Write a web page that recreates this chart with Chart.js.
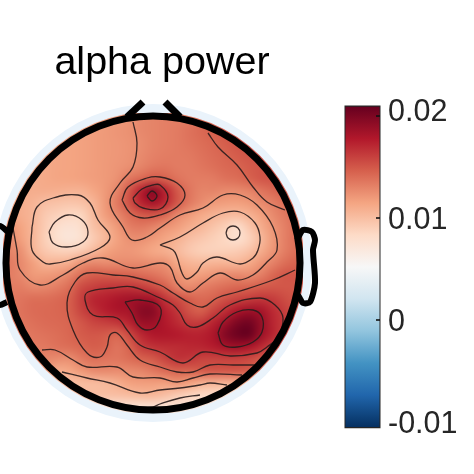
<!DOCTYPE html>
<html><head><meta charset="utf-8">
<style>html,body{margin:0;padding:0;background:#fff}#w{width:474px;height:474px}</style>
<script src="https://cdn.jsdelivr.net/npm/chart.js@4"></script>
</head><body><div id="w"><canvas id="c" width="474" height="474"></canvas></div>
<script>
const chartTitle = 'alpha power';
const tickLabels = ['0.02','0.01','0','-0.01'];
const tickLabelValues = [0.0203,0.0097,-0.0003,-0.0103];
const tickValues = [0.02,0.01,0];
const colorRange = [-0.0105,0.0209];
const rdbuStops = ['#053061','#2166ac','#4393c3','#92c5de','#d1e5f0','#f7f7f7','#fddbc7','#f4a582','#d6604d','#b2182b','#67001f'];
const headCenter = [153,263];
const gridX = [9,21,33,45,57,69,81,93,105,117,129,141,153,165,177,189,201,213,225,237,249,261,273,285,297];
const gridY = [119,131,143,155,167,179,191,203,215,227,239,251,263,275,287,299,311,323,335,347,359,371,383,395,407];
// power in units of 1e-3
const powerGrid = [
[11,11,11,11,11.5,11.5,11.5,11.5,12,12,12.3,12.8,13,13.2,13.3,13.5,14,14.5,15,15,15,15,15,15,15],
[11,11,11,11.2,11.5,11.5,11.6,11.8,12,12.2,12.4,12.8,13,13.2,13.4,13.8,14.2,14.6,15,15.3,15.5,15.5,15.5,15.5,15.5],
[11,11,11,11.2,11.4,11.5,11.6,11.8,12,12.1,12.3,12.6,13,13.2,13.4,13.7,14,14.3,14.7,15.1,15.4,15.5,15.5,15.5,15.5],
[11,11,11,11.2,11.4,11.5,11.6,11.8,12,12.1,12.3,12.7,13.1,13.3,13.4,13.5,13.8,14.1,14.4,14.8,15.1,15.3,15.5,15.5,15.5],
[10.8,11,11,11.2,11.4,11.5,11.6,11.8,12,12.2,12.5,13,13.5,13.6,13.4,13.4,13.6,13.9,14.2,14.4,14.8,15.1,15.3,15.3,15.3],
[10.8,11,11,11.2,11.4,11.5,11.6,11.8,12,12.4,13.6,14.3,15,14.6,13.8,13.4,13.3,13.4,13.8,14,14.5,15,15.2,15.3,15.3],
[11,11,11,11,10.9,10.7,10.7,11.3,12,13,15,17.5,19.5,17.3,15,13.7,13,13,12.7,12.7,13,13.6,14.2,14.8,15],
[11.5,11,10.6,10,9.8,9.6,9.8,10.5,12,13.5,15.2,17.2,18.2,17,15,13.5,12.6,12,11.8,11.7,12,12.7,13.2,14,14.8],
[11.5,11,10.5,9.4,8.9,8.5,8.6,10.2,11.8,12.8,14,14.8,15,14.3,12.8,12,11.2,10.7,10.3,10.2,10.7,11.6,12.7,13.5,14.2],
[12.4,11.5,10.5,9.2,8,7.5,8,9.8,10.8,12,13.2,13.5,13,12.3,11.8,11,10.5,9.7,9,8,9.5,11,12.2,13.2,14],
[12.8,11.7,10.5,9,7.8,7.2,7.8,9.2,10.4,11.6,12.4,12.5,12,11.4,10.8,10,9.5,9,8.5,7.8,8.8,10.3,12,13.2,14],
[13,12.4,10.6,9.5,9,8.9,9.3,10.3,11.5,12,12.1,11.8,11.3,10.9,10.3,9.5,9,8.9,9,9.2,9.8,11,12.2,13.3,14],
[13.5,12.7,11.7,10.6,10.7,11,12.3,12.8,12.6,12.7,12.7,12.7,12.5,12.4,11.3,10.6,10.4,10.6,10.6,10.5,11.2,12.2,13.1,14,14.5],
[13.3,12.8,12,12,12.2,12.9,14,14.7,14.7,14.6,14.5,14.1,13.8,13.2,12.4,11.6,11.8,12.2,12.6,12.8,12.6,13.2,14.3,15,15],
[13.3,13.3,12.8,12.9,13.3,14,15.5,16,16.4,16.5,16.5,16.2,15.5,14.7,13.2,12.7,13.2,13.6,14,14.3,14.4,14.8,15,15,15],
[13.5,13.7,14,14,14.2,14.6,16,17.2,17.5,18,18.4,18.5,18.2,16.5,15.5,14.7,14.2,14.5,15.3,15.8,16.2,16.5,16.2,15.5,15],
[13.5,13.8,14.1,14.2,14.3,14.6,15.8,16.7,17.5,18,18.2,19.5,19.5,17.5,16.5,15.2,14.6,15.8,16.8,18,18.7,18.3,17,16,15.2],
[13.4,13.6,13.9,14.1,14.2,14.4,15,15.7,16,16.4,17.2,18.7,18.7,17.8,17,16.3,16.3,17.3,18.6,20,20.5,19,17.2,16.2,15],
[13.2,13.4,13.6,13.8,14,14.3,14.8,15,14.8,14.3,15.5,17,17.8,17.9,17.7,17.4,17.4,18,19.7,20.6,20.8,18.7,17.2,15.8,14.8],
[13,13.2,13.4,13.5,13.8,14,14.3,14.7,14.5,13.7,14.5,16,16.6,16.8,16.9,17.1,17.2,17.6,18.2,18.5,18,17,15.8,15,14.5],
[12.8,12.9,13,12.9,12.6,12.5,13.4,13.9,13.7,13.6,14,14.5,14.9,15.8,16.6,16.4,15.9,15.8,15.9,15.9,15.6,14.9,14.2,14,14],
[12,12,12,12,11,11.3,12,12.6,12.7,12.6,12.7,12.9,13.5,14.1,14.5,14.5,14.8,15,15,15,14.7,14.2,14,14,14],
[11,11,11,10.5,10,10,10.1,10.2,10.4,10.9,11.6,11.8,11.8,11.7,12.2,11.7,10.9,10.7,10.6,10.9,11,11,11,11,11],
[10,10,10,10,10,10,10,10,10,10,10.2,10.4,10.5,10,9.3,8.8,8.4,8.3,8.2,8.2,8.2,8.2,8.2,8.2,8.2],
[7.5,7.5,7.5,7.5,7.5,7.5,7.5,7.5,7.5,7.5,7.5,7.5,7.5,7.5,7.5,7.5,7.5,7.5,7.5,7.5,7.5,7.5,7.5,7.5,7.5]
];
const contourFromTop = [[133,122],[137,143],[133,167],[120,183],[110,203],[123,227],[132,240],[147,237],[160,228],[180,215],[203,208],[223,195],[240,195],[257,205],[273,227],[277,250],[267,262],[253,275],[237,280],[220,273],[203,283],[190,292],[177,283],[170,267],[160,263],[133,268],[103,258],[83,263],[63,275],[40,285],[20,270],[17,250],[13,228]];
const contourTopRight = [[208,133],[218,147],[237,165],[253,187],[267,202],[285,210]];
const blobLeftOuter = [[32,227],[37,207],[53,198],[78,195],[90,203],[98,220],[110,237],[100,248],[70,260],[50,264],[43,262],[32,250],[32,227]];
const blobLeftInner = [[49,232],[55,222],[68,215],[82,220],[88,232],[83,242],[67,247],[53,243],[49,232]];
const blobRightOuter = [[160,245],[180,237],[203,223],[223,213],[240,212],[255,223],[260,237],[258,250],[253,258],[240,264],[217,257],[203,263],[197,272],[187,279],[182,273],[177,257],[173,250],[160,245]];
const blobRightInner = [[226,233],[228,228],[233,226],[238,228],[240,233],[238,238],[233,240],[228,238],[226,233]];
const peakOuter = [[122,200],[128,187],[147,178],[160,177],[177,183],[185,195],[177,207],[160,215],[143,218],[130,213],[122,200]];
const peakMiddle = [[133,198],[142,189],[153,185],[160,185],[168,197],[160,209],[143,208],[135,203],[133,198]];
const peakInner = [[147,196],[152,191],[157,196],[152,201],[147,196]];
const bayContour = [[295,270],[273,280],[237,292],[217,298],[203,307],[190,303],[173,293],[160,285],[133,277],[113,275],[87,273],[75,282],[67,303],[73,330],[87,353],[100,357],[107,347],[110,335],[117,333],[127,345],[140,360],[160,367],[177,372],[193,372],[210,365],[233,365],[257,365]];
const darkBand = [[160,298],[133,287],[113,288],[88,292],[85,300],[93,315],[117,318],[127,330],[140,345],[160,352],[183,363],[203,352],[230,356],[257,353],[267,347],[278,337],[283,318],[275,305],[260,298],[230,305],[213,318],[197,327],[187,325],[180,313],[173,305],[160,298]];
const darkTriangle = [[125,302],[140,300],[160,307],[157,325],[147,330],[138,325],[132,313],[125,302]];
const darkRight = [[218,333],[223,322],[237,312],[253,310],[262,317],[262,332],[253,342],[237,347],[223,345],[218,333]];
const lowerContour1 = [[42,350],[55,350],[73,360],[87,367],[117,367],[133,377],[160,378],[177,382],[193,378],[210,374],[242,375]];
const lowerContour2 = [[62,372],[87,378],[110,383],[140,393],[160,390],[180,388],[200,385],[210,383],[227,385]];
const lowerContour3 = [[135,409],[153,407],[160,404],[180,398],[200,395]];
const noseLeft = [[127,117],[143,102]];
const noseRight = [[165,102],[180,117]];
const earLeft = [[8,232],[0,226],[-8,232],[-10,250],[-9,285],[-6,302],[0,305],[7,302]];
const earRight = [[297,240],[303,230],[312,232],[315,240],[313,250],[315,283],[310,302],[303,303],[298,295]];
const contours = [contourFromTop,contourTopRight,blobLeftOuter,blobLeftInner,blobRightOuter,blobRightInner,peakOuter,peakMiddle,peakInner,bayContour,darkBand,darkTriangle,darkRight,lowerContour1,lowerContour2,lowerContour3];

const pts = a => a.map(p => ({x:p[0],y:p[1]}));
const hex = h => [1,3,5].map(i => parseInt(h.substr(i,2),16));
function colorFor(v){
  const t = Math.max(0,Math.min(1,(v-colorRange[0])/(colorRange[1]-colorRange[0])))*(rdbuStops.length-1);
  const i = Math.min(rdbuStops.length-2,Math.floor(t)), f = t-i;
  const a = hex(rdbuStops[i]), b = hex(rdbuStops[i+1]);
  return 'rgb('+a.map((c,k)=>Math.round(c+(b[k]-c)*f)).join(',')+')';
}
const cells = [];
powerGrid.forEach((row,j)=>row.forEach((v,i)=>cells.push({x:gridX[i],y:gridY[j],v:v/1000})));

const heatPlugin = {
  id:'heat',
  beforeDatasetDraw(chart,args){
    if(chart.data.datasets[args.index].label!==chartTitle) return;
    const {x,y} = chart.scales, ctx = chart.ctx;
    const off = document.createElement('canvas');
    off.width = gridX.length; off.height = gridY.length;
    const o = off.getContext('2d');
    cells.forEach(c=>{o.fillStyle=colorFor(c.v);o.fillRect(gridX.indexOf(c.x),gridY.indexOf(c.y),1,1);});
    const half = (gridX[1]-gridX[0])/2;
    const l = x.getPixelForValue(gridX[0]-half), r = x.getPixelForValue(gridX[gridX.length-1]+half);
    const t = y.getPixelForValue(gridY[0]-half), b = y.getPixelForValue(gridY[gridY.length-1]+half);
    ctx.save();
    ctx.beginPath();
    ctx.arc(x.getPixelForValue(headCenter[0]),y.getPixelForValue(headCenter[1]),151.5,0,Math.PI*2);
    ctx.clip();
    ctx.imageSmoothingEnabled = true; ctx.imageSmoothingQuality = 'high';
    ctx.drawImage(off,l,t,r-l,b-t);
    ctx.restore();
  }
};
const barGradient = c => {
  const s = c.chart.scales.y2; if(!s) return '#888';
  const p0 = s.getPixelForValue(colorRange[0]), p1 = s.getPixelForValue(colorRange[1]);
  if(!Number.isFinite(p0)||!Number.isFinite(p1)) return '#888';
  const g = c.chart.ctx.createLinearGradient(0,p0,0,p1);
  rdbuStops.forEach((h,i)=>g.addColorStop(i/(rdbuStops.length-1),h));
  return g;
};
const datasets = [
  {label:'ring',data:pts([headCenter]),pointRadius:159,pointBackgroundColor:'#eaf3fb',pointBorderWidth:0,order:50},
  {label:chartTitle,data:cells,pointRadius:0,order:40},
  ...contours.map((c,i)=>({label:'contour'+i,data:pts(c),showLine:true,pointRadius:0,borderColor:'rgba(40,28,28,0.9)',borderWidth:1.3,tension:0.4,order:30})),
  {label:'head',data:pts([headCenter]),pointRadius:147,pointBackgroundColor:'rgba(0,0,0,0)',pointBorderColor:'#000',pointBorderWidth:7,order:20},
  ...[noseLeft,noseRight,earLeft,earRight].map((c,i)=>({label:'outline'+i,data:pts(c),showLine:true,pointRadius:0,borderColor:'#000',borderWidth:i<2?7:6,tension:i<2?0:0.25,order:21})),
  {label:'frame',yAxisID:'y2',indexAxis:'y',data:[{x:362.5,y:colorRange[0]-0.00012},{x:362.5,y:colorRange[1]+0.00012}],showLine:true,pointRadius:0,borderColor:'#262626',borderWidth:36,order:10},
  {label:'colorbar',yAxisID:'y2',indexAxis:'y',data:[{x:362.5,y:colorRange[0]},{x:362.5,y:colorRange[1]}],showLine:true,pointRadius:0,borderColor:barGradient,borderWidth:34,order:9},
  ...tickValues.map((v,i)=>({label:'tick'+i,yAxisID:'y2',indexAxis:'y',data:[{x:376,y:v},{x:380,y:v}],showLine:true,pointRadius:0,borderColor:'#111',borderWidth:1.6,order:8}))
];
new Chart(document.getElementById('c'),{
  type:'scatter',
  data:{datasets:datasets.map(d=>Object.assign({clip:false},d))},
  plugins:[heatPlugin],
  options:{
    responsive:false,animation:false,events:[],
    layout:{autoPadding:false,padding:0},
    plugins:{
      legend:{display:false},tooltip:{enabled:false},
      title:{display:true,text:chartTitle,fullSize:false,color:'#000',font:{family:'"Liberation Sans"',size:39.5,weight:'normal',lineHeight:1.2},padding:{top:39,bottom:8.6}}
    },
    scales:{
      x:{type:'linear',min:0,max:324,display:false},
      y:{type:'linear',reverse:true,min:95,max:474,display:false},
      y2:{type:'linear',position:'right',min:-0.0151,max:0.02206,
        border:{display:false},grid:{display:false,drawTicks:false},
        afterFit(s){s.width=150;s.paddingTop=0;s.paddingBottom=0;},
        afterBuildTicks(s){s.ticks=tickLabelValues.map(v=>({value:v}));},
        ticks:{autoSkip:false,padding:64,color:'#262626',font:{family:'"Liberation Sans"',size:30.5},callback:(v,i)=>tickLabels[i]}}
    }
  }
});
</script></body></html>
